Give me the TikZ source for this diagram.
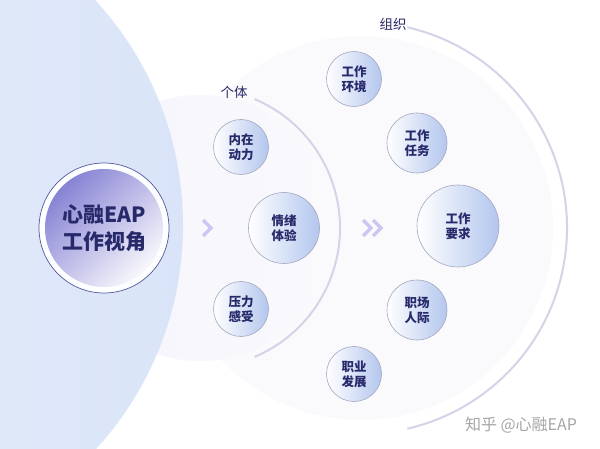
\documentclass[tikz,border=0pt]{standalone}
\usepackage{fontspec}
\setmainfont{Noto Sans CJK SC}
\usetikzlibrary{shadings}

\definecolor{ink}{HTML}{27296A}
\definecolor{bgleft}{HTML}{F0F4FC}
\definecolor{bgright}{HTML}{D9E4F8}
\definecolor{ringline}{HTML}{55569A}
\definecolor{corepurple}{HTML}{8783D4}
\definecolor{nodeline}{HTML}{A4A7C0}
\definecolor{nodeblue}{HTML}{B3C6EE}
\definecolor{arcline}{HTML}{D3D4E8}
\definecolor{indfill}{HTML}{F4F4FB}
\definecolor{orgfill}{HTML}{FAFAFD}
\definecolor{chev}{HTML}{CBC7F0}

\tikzset{
  bubble/.style={circle, draw=nodeline, line width=0.6pt,
    left color=white, right color=nodeblue, text=ink,
    font=\fontsize{12.5}{15}\selectfont\bfseries, align=center, inner sep=0pt},
  arcstroke/.style={draw=arcline, line width=2pt},
  chevron/.style={draw=chev, line width=3.5pt},
  grouplabel/.style={text=ink, font=\fontsize{13.5}{16}\selectfont}
}

\begin{document}
\begin{tikzpicture}[x=1pt,y=-1pt]
    \useasboundingbox (0,0) rectangle (600,449);
    \clip (0,0) rectangle (600,449);
    \fill[white] (0,0) rectangle (600,449);

    % Discs behind the two groups
    \fill[orgfill] (361,228) circle (192);
    \draw[arcstroke] (361,228) ++(-77:206) arc (-77:77:206);
    \shade[left color=indfill, right color=orgfill] (200,228) circle (133);
    \draw[arcstroke] (200,228) ++(-67:140) arc (-67:67:140);

    % Big left area
    \shade[left color=bgleft, right color=bgright] (-149,225) circle (332);

    % Core circle
    \filldraw[draw=ringline, fill=white!96!bgright, line width=0.7pt] (104,228) circle (65);
    \shade[top color=corepurple, bottom color=white!94!corepurple, shading angle=45] (104,228) circle (59);
    \node[text=ink, font=\fontsize{21}{27}\selectfont\bfseries, align=center] (core) at (104,228) {心融EAP\\工作视角};

    % Group labels
    \node[grouplabel] (ind) at (234,92) {个体};
    \node[grouplabel] (org) at (393,24) {组织};

    % Chevrons
    \draw[chevron] (203,220) -- (211,228) -- (203,236);
    \draw[chevron] (363,220) -- (371,228) -- (363,236);
    \draw[chevron] (373,220) -- (381,228) -- (373,236);

    % Individual factors
    \node[bubble, minimum size=55pt] (drive) at (241,147) {内在\\动力};
    \node[bubble, minimum size=71pt] (emotion) at (284,228) {情绪\\体验};
    \node[bubble, minimum size=55pt] (stress) at (241,309) {压力\\感受};

    % Organisational factors
    \node[bubble, minimum size=55pt] (env) at (354,79) {工作\\环境};
    \node[bubble, minimum size=60pt] (task) at (417,143) {工作\\任务};
    \node[bubble, minimum size=82pt] (demand) at (458,226) {工作\\要求};
    \node[bubble, minimum size=60pt] (social) at (417,310) {职场\\人际};
    \node[bubble, minimum size=55pt] (career) at (354,374) {职业\\发展};

    % Watermark
    \node[text=black!35, font=\fontsize{16}{18}\selectfont] (mark) at (521,425) {知乎 @心融EAP};
\end{tikzpicture}
\end{document}
